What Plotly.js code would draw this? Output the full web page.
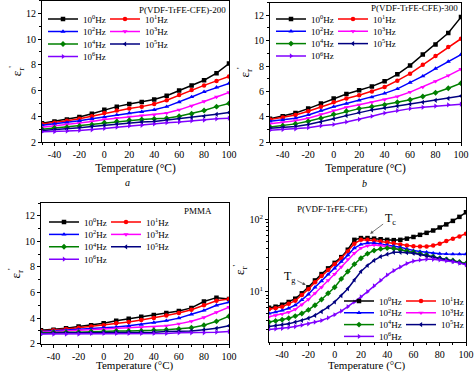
<!DOCTYPE html>
<html><head><meta charset="utf-8">
<script src="https://cdn.plot.ly/plotly-3.0.1.min.js"></script>
<style>html,body{margin:0;padding:0;background:#fff}</style>
</head><body><div id="chart" style="width:474px;height:372px"></div>
<script>
// ---------- data ----------
const temps = [-50,-40,-30,-20,-10,0,10,20,30,40,50,60,70,80,90,100];
const tempsD = [-50,-45,-40,-35,-30,-25,-20,-15,-10,-5,0,5,10,15,20,25,30,35,40,45,50,55,60,65,70,75,80,85,90,95,100];
const freqLabels = ['10<sup>0</sup>Hz','10<sup>1</sup>Hz','10<sup>2</sup>Hz','10<sup>3</sup>Hz','10<sup>4</sup>Hz','10<sup>5</sup>Hz','10<sup>6</sup>Hz'];
const xTickVals = [-40,-20,0,20,40,60,80,100];
const xTickText = ['-40','-20','0','20','40','60','80','100'];
const yTickVals = [2,4,6,8,10,12];
const yTickText = ['2','4','6','8','10','12'];
const logTickVals = [10,100];
const logTickText = ['10<sup>1</sup>','10<sup>2</sup>'];
const panelTitles = ['P(VDF-TrFE-CFE)-200','P(VDF-TrFE-CFE)-300','PMMA','P(VDF-TrFE-CFE)'];
const panelLetters = ['a','b'];
const xTitle = 'Temperature (°C)';
const yTitle = 'ε<sub>r</sub><sup>\'</sup>';

// panel a : P(VDF-TrFE-CFE)-200
const a_f0 = [3.45,3.6,3.75,3.95,4.2,4.5,4.75,4.95,5.1,5.3,5.6,6.0,6.4,6.8,7.35,8.1];
const a_f1 = [3.4,3.5,3.65,3.8,4.0,4.25,4.45,4.6,4.75,4.95,5.25,5.65,6.05,6.4,6.75,7.1];
const a_f2 = [3.3,3.4,3.5,3.65,3.8,3.95,4.1,4.25,4.35,4.5,4.75,5.1,5.5,5.9,6.25,6.55];
const a_f3 = [3.15,3.25,3.35,3.45,3.6,3.75,3.85,3.95,4.05,4.1,4.25,4.5,4.8,5.15,5.5,5.85];
const a_f4 = [3.0,3.1,3.15,3.25,3.35,3.5,3.6,3.7,3.75,3.8,3.85,4.0,4.2,4.45,4.75,5.0];
const a_f5 = [2.9,2.95,3.0,3.1,3.2,3.3,3.4,3.5,3.55,3.6,3.7,3.8,3.9,4.0,4.15,4.3];
const a_f6 = [2.8,2.8,2.85,2.9,2.95,3.05,3.15,3.25,3.3,3.4,3.5,3.55,3.65,3.7,3.8,3.85];

// panel b : P(VDF-TrFE-CFE)-300
const b_f0 = [3.85,4.05,4.3,4.65,5.05,5.45,5.8,6.1,6.4,6.8,7.35,8.05,8.9,9.7,10.6,11.85];
const b_f1 = [3.8,3.95,4.15,4.45,4.8,5.15,5.45,5.7,6.0,6.35,6.85,7.4,8.1,8.8,9.5,10.15];
const b_f2 = [3.65,3.75,3.9,4.15,4.5,4.8,5.05,5.3,5.55,5.85,6.2,6.7,7.2,7.8,8.35,8.9];
const b_f3 = [3.45,3.55,3.7,3.9,4.2,4.5,4.75,4.95,5.15,5.35,5.6,5.95,6.35,6.8,7.25,7.75];
const b_f4 = [3.2,3.3,3.45,3.65,3.9,4.2,4.45,4.65,4.8,4.95,5.15,5.35,5.6,5.9,6.25,6.65];
const b_f5 = [3.1,3.15,3.25,3.4,3.6,3.85,4.1,4.35,4.55,4.7,4.85,5.0,5.15,5.3,5.45,5.65];
const b_f6 = [2.95,3.0,3.05,3.15,3.3,3.4,3.6,3.8,4.05,4.3,4.5,4.65,4.75,4.85,4.95,5.0];

// panel c : PMMA
const c_f0 = [3.05,3.1,3.2,3.35,3.45,3.6,3.8,3.95,4.1,4.25,4.4,4.55,4.8,5.3,5.6,5.5];
const c_f1 = [3.0,3.05,3.15,3.25,3.35,3.45,3.6,3.7,3.85,4.0,4.2,4.4,4.65,5.0,5.35,5.5];
const c_f2 = [2.95,3.0,3.05,3.1,3.15,3.25,3.3,3.4,3.5,3.65,3.8,4.0,4.3,4.6,5.0,5.25];
const c_f3 = [2.9,2.95,3.0,3.0,3.05,3.1,3.15,3.2,3.25,3.3,3.4,3.55,3.75,4.05,4.45,4.85];
const c_f4 = [2.85,2.9,2.9,2.9,2.95,2.95,3.0,3.0,3.0,3.05,3.1,3.15,3.25,3.45,3.75,4.15];
const c_f5 = [2.8,2.85,2.85,2.85,2.85,2.9,2.9,2.9,2.9,2.9,2.95,2.95,3.0,3.1,3.2,3.4];
const c_f6 = [2.75,2.75,2.75,2.75,2.8,2.8,2.8,2.8,2.8,2.8,2.8,2.85,2.85,2.85,2.9,2.95];

// panel d : P(VDF-TrFE-CFE), log scale
const d_f0 = [6.0,6.2,6.6,7.2,8.0,9.5,11.5,14.3,17.5,21,25,30,38,52,55,55,54,53,52,51.5,52,54,57,61,65,70,77,85,95,108,125];
const d_f1 = [5.7,5.9,6.2,6.8,7.5,9.0,10.8,13.5,16.5,20,24,29,36,46,52,52,51,49.5,48,46.5,45,43.5,42.5,42,42,43.5,46,50,54,58,63];
const d_f2 = [5.0,5.2,5.5,5.9,6.5,7.7,9.2,11.5,14,17.3,21,26,32,40,45,47,47,45.5,44,42.5,41,39,37,36,35,34,33.5,33.2,33,33,33];
const d_f3 = [4.5,4.7,4.9,5.2,5.7,6.6,7.8,9.5,11.5,14.3,17.5,22,28,34,40,43,44,43.5,42,40,38,36,34,32.5,31,29.7,28.5,27.5,26.5,25.5,24.5];
const d_f4 = [3.8,3.95,4.1,4.3,4.6,5.0,5.6,6.5,7.8,9.5,11.5,15,19,24,29,33.5,37,39,40,39.5,38,36.5,35,33.5,32,30.5,29,28,27,25.8,24.5];
const d_f5 = [3.3,3.4,3.5,3.6,3.8,4.0,4.3,4.7,5.3,6.1,7.2,8.8,11,14.5,19,23,27,30.5,33,35,35,34.5,34,32.7,31.5,30.2,29,27.7,26.5,25.2,24];
const d_f6 = [3.0,3.05,3.1,3.2,3.3,3.45,3.6,3.8,4.0,4.35,4.8,5.4,6.2,7.2,8.5,10,12,14.3,17,19.5,22,24.5,26.5,27.5,28,28,27.5,26.8,26,24.8,23.5];

// ---------- styles ----------
const W = 474, H = 372;
const FONT = 'Liberation Serif, Times New Roman, serif';
const colors = ['#000000','#ff0000','#0000ff','#ff00ff','#008000','#000080','#8000ff'];
const symbols = ['square','circle','triangle-up','triangle-down','diamond','triangle-left','triangle-right'];
const px = x => x / W;
const py = y => 1 - y / H;

const panels = [
  {x: temps,  ys: [a_f0,a_f1,a_f2,a_f3,a_f4,a_f5,a_f6], xa:'x',  ya:'y',  lx: 43,  ly: 19,  rg: 12.5},
  {x: temps,  ys: [b_f0,b_f1,b_f2,b_f3,b_f4,b_f5,b_f6], xa:'x2', ya:'y2', lx: 271, ly: 19,  rg: 12.3},
  {x: temps,  ys: [c_f0,c_f1,c_f2,c_f3,c_f4,c_f5,c_f6], xa:'x3', ya:'y3', lx: 44,  ly: 222, rg: 12.4},
  {x: tempsD, ys: [d_f0,d_f1,d_f2,d_f3,d_f4,d_f5,d_f6], xa:'x4', ya:'y4', lx: 339, ly: 301, rg: 11.8}
];

const traces = [];
const layout = {
  width: W, height: H,
  margin: {l:0, r:0, t:0, b:0},
  paper_bgcolor: '#fff', plot_bgcolor: '#fff',
  font: {family: FONT, color: '#000', size: 10},
  showlegend: true,
  legend: {visible: false},
  annotations: []
};

let legIdx = 1;
panels.forEach((p, pi) => {
  p.ys.forEach((yv, k) => {
    legIdx++;
    const key = 'legend' + legIdx;
    traces.push({
      type: 'scatter', mode: 'lines+markers',
      x: p.x, y: yv, xaxis: p.xa, yaxis: p.ya,
      name: freqLabels[k], legend: key, showlegend: true,
      line: {color: colors[k], width: 1.5},
      marker: {symbol: symbols[k], size: 4.5, color: colors[k]}
    });
    const row = Math.floor(k / 2), col = k % 2;
    layout[key] = {
      x: px(p.lx + col * 62), y: py(p.ly + row * p.rg),
      xanchor: 'left', yanchor: 'middle',
      bgcolor: 'rgba(0,0,0,0)', borderwidth: 0,
      font: {family: FONT, size: 9, color: '#000'},
      itemwidth: 30, tracegroupgap: 0
    };
  });
});

const baseAxis = {
  showline: true, linecolor: '#000', linewidth: 1, mirror: true,
  ticks: 'outside', ticklen: 3, tickwidth: 1, tickcolor: '#000',
  showgrid: false, zeroline: false,
  tickfont: {family: FONT, size: 10, color: '#000'}
};
function xAxis(dom, anchor, withTitle) {
  const ax = Object.assign({}, baseAxis, {
    domain: dom, anchor: anchor, range: [-50, 100],
    tickmode: 'array', tickvals: xTickVals, ticktext: xTickText,
    minor: {ticks: 'outside', ticklen: 2, tickcolor: '#000', dtick: 10, tick0: 0}
  });
  if (withTitle) ax.title = {text: xTitle, font: {family: FONT, size: 11.5, color: '#000'}, standoff: 4};
  return ax;
}
function yAxis(dom, anchor) {
  return Object.assign({}, baseAxis, {
    domain: dom, anchor: anchor, range: [2, 13],
    tickmode: 'array', tickvals: yTickVals, ticktext: yTickText,
    minor: {ticks: 'outside', ticklen: 2, tickcolor: '#000', dtick: 1, tick0: 0},
    title: {text: yTitle, font: {family: FONT, size: 13, color: '#000'}, standoff: 1}
  });
}
layout.xaxis  = xAxis([px(42), px(229)], 'y', true);
layout.yaxis  = yAxis([py(142), py(0.5)], 'x');
layout.xaxis2 = xAxis([px(270), px(461)], 'y2', true);
layout.yaxis2 = yAxis([py(142.3), py(2.5)], 'x2');
layout.xaxis3 = xAxis([px(41), px(229)], 'y3', false);
layout.yaxis3 = yAxis([py(343.7), py(203)], 'x3');
layout.xaxis4 = xAxis([px(269), px(466)], 'y4', false);
layout.yaxis4 = Object.assign({}, baseAxis, {
  domain: [py(342), py(198)], anchor: 'x4', type: 'log', range: [0.305, 2.294],
  tickmode: 'array', tickvals: logTickVals, ticktext: logTickText,
  minor: {ticks: 'outside', ticklen: 2, tickcolor: '#000', tickvals: [3,4,5,6,7,8,9,20,30,40,50,60,70,80,90]},
  title: {text: yTitle, font: {family: FONT, size: 13, color: '#000'}, standoff: 1}
});

// panel titles, letters, bottom-row axis titles
const ann = layout.annotations;
const tf = {family: FONT, size: 9, color: '#000'};
const xf = {family: FONT, size: 11, color: '#000'};
ann.push({xref:'paper', yref:'paper', x: px(228), y: py(10), xanchor:'right', yanchor:'middle', text: panelTitles[0], showarrow:false, font: tf});
ann.push({xref:'paper', yref:'paper', x: px(460), y: py(8), xanchor:'right', yanchor:'middle', text: panelTitles[1], showarrow:false, font: tf});
ann.push({xref:'paper', yref:'paper', x: px(198), y: py(211), xanchor:'center', yanchor:'middle', text: panelTitles[2], showarrow:false, font: tf});
ann.push({xref:'paper', yref:'paper', x: px(332), y: py(209), xanchor:'center', yanchor:'middle', text: panelTitles[3], showarrow:false, font: tf});
ann.push({xref:'paper', yref:'paper', x: px(127), y: py(182), xanchor:'center', yanchor:'middle', text: '<i>' + panelLetters[0] + '</i>', showarrow:false, font: {family: FONT, size: 10, color: '#000'}});
ann.push({xref:'paper', yref:'paper', x: px(364), y: py(183), xanchor:'center', yanchor:'middle', text: '<i>' + panelLetters[1] + '</i>', showarrow:false, font: {family: FONT, size: 10, color: '#000'}});
ann.push({xref:'paper', yref:'paper', x: px(135), y: py(365.5), xanchor:'center', yanchor:'middle', text: xTitle, showarrow:false, font: xf});
ann.push({xref:'paper', yref:'paper', x: px(367), y: py(365.5), xanchor:'center', yanchor:'middle', text: xTitle, showarrow:false, font: xf});
// transition markers
ann.push({xref:'x4', yref:'y4', x: 27, y: Math.log10(63), ax: 20, ay: -15, text: 'T<sub>c</sub>', showarrow: true,
  arrowhead: 2, arrowsize: 0.8, arrowwidth: 0.8, arrowcolor: '#555', font: {family: FONT, size: 12, color: '#000'}});
ann.push({xref:'x4', yref:'y4', x: -22, y: Math.log10(12.4), ax: -16, ay: -8, text: 'T<sub>g</sub>', showarrow: true,
  arrowhead: 2, arrowsize: 0.8, arrowwidth: 0.8, arrowcolor: '#555', font: {family: FONT, size: 12, color: '#000'}});

Plotly.newPlot('chart', traces, layout, {staticPlot: true, displayModeBar: false});
</script>
</body></html>
